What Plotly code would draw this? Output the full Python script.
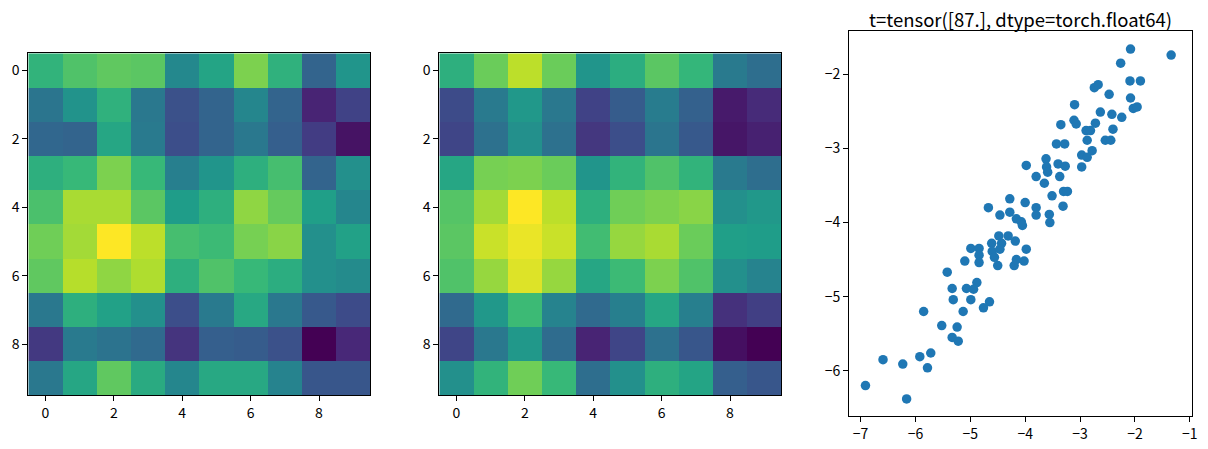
import plotly.graph_objects as go

# Heatmap values (0 = darkest, 1 = brightest)
grid_left = [
    [0.65, 0.72, 0.75, 0.74, 0.47, 0.58, 0.80, 0.64, 0.32, 0.52],
    [0.39, 0.51, 0.64, 0.40, 0.25, 0.32, 0.46, 0.32, 0.10, 0.20],
    [0.33, 0.32, 0.59, 0.41, 0.24, 0.32, 0.40, 0.30, 0.18, 0.05],
    [0.63, 0.67, 0.80, 0.67, 0.43, 0.52, 0.63, 0.70, 0.32, 0.50],
    [0.71, 0.87, 0.87, 0.74, 0.55, 0.63, 0.83, 0.76, 0.56, 0.46],
    [0.78, 0.86, 1.00, 0.90, 0.70, 0.68, 0.79, 0.82, 0.50, 0.57],
    [0.75, 0.89, 0.83, 0.88, 0.63, 0.72, 0.67, 0.62, 0.50, 0.48],
    [0.40, 0.63, 0.57, 0.50, 0.24, 0.41, 0.60, 0.40, 0.28, 0.23],
    [0.17, 0.41, 0.38, 0.34, 0.15, 0.30, 0.29, 0.25, 0.00, 0.11],
    [0.40, 0.59, 0.75, 0.61, 0.46, 0.60, 0.60, 0.45, 0.27, 0.27],
]

grid_right = [
    [0.63, 0.77, 0.90, 0.77, 0.52, 0.62, 0.74, 0.66, 0.41, 0.36],
    [0.23, 0.41, 0.53, 0.40, 0.20, 0.29, 0.42, 0.31, 0.07, 0.12],
    [0.21, 0.37, 0.50, 0.37, 0.16, 0.24, 0.39, 0.28, 0.06, 0.09],
    [0.59, 0.79, 0.80, 0.77, 0.52, 0.65, 0.72, 0.65, 0.41, 0.36],
    [0.73, 0.86, 1.00, 0.90, 0.63, 0.78, 0.80, 0.82, 0.50, 0.53],
    [0.74, 0.92, 0.97, 0.92, 0.69, 0.84, 0.87, 0.77, 0.56, 0.55],
    [0.72, 0.84, 0.95, 0.84, 0.59, 0.68, 0.80, 0.72, 0.50, 0.45],
    [0.34, 0.53, 0.68, 0.45, 0.34, 0.43, 0.59, 0.43, 0.14, 0.19],
    [0.21, 0.40, 0.53, 0.35, 0.10, 0.21, 0.37, 0.27, 0.04, 0.00],
    [0.50, 0.65, 0.78, 0.67, 0.36, 0.50, 0.63, 0.58, 0.30, 0.27],
]

# Scatter points
pts_x = [
    -2.08, -1.34, -2.26, -2.09, -1.90, -2.74, -2.67, -2.47, -2.08, -2.03,
    -1.96, -3.10, -2.63, -2.42, -2.24, -3.11, -3.07, -2.72, -3.35, -2.89,
    -2.81, -2.40, -2.87, -2.54, -2.44, -3.43, -3.28, -2.78, -2.97, -2.87,
    -3.62, -3.98, -3.61, -3.40, -3.27, -2.97, -3.59, -3.80, -3.37, -3.65,
    -3.30, -3.23, -3.51, -4.28, -4.00, -3.80, -3.31, -4.28, -3.80, -3.56,
    -4.16, -4.07, -3.55, -4.05, -4.67, -4.46,
    -4.48, -4.31, -4.61, -4.43, -4.18, -4.99, -4.84, -4.60, -4.46, -4.84,
    -4.56, -5.10, -4.84, -4.50, -4.20, -4.16, -4.02, -3.98, -5.42, -4.88,
    -5.07, -4.94, -5.33, -5.31, -4.99, -4.65, -4.76, -5.13, -5.85, -5.52,
    -5.24, -5.33, -5.22, -5.72, -5.92, -6.59, -6.23, -5.78, -6.91, -6.16,
]
pts_y = [
    -1.66, -1.74, -1.85, -2.09, -2.09, -2.18, -2.14, -2.27, -2.32, -2.46,
    -2.44, -2.41, -2.51, -2.54, -2.58, -2.62, -2.67, -2.66, -2.68, -2.76,
    -2.76, -2.74, -2.89, -2.89, -2.89, -2.94, -2.94, -3.03, -3.09, -3.12,
    -3.14, -3.23, -3.25, -3.21, -3.24, -3.25, -3.32, -3.38, -3.38, -3.47,
    -3.58, -3.58, -3.64, -3.68, -3.73, -3.80, -3.78, -3.86, -3.90, -3.89,
    -3.95, -3.99, -4.00, -4.04, -3.80, -3.90,
    -4.18, -4.18, -4.28, -4.28, -4.25, -4.35, -4.35, -4.39, -4.36, -4.44,
    -4.47, -4.52, -4.54, -4.58, -4.58, -4.50, -4.52, -4.36, -4.67, -4.81,
    -4.89, -4.90, -4.89, -5.04, -5.04, -5.07, -5.15, -5.20, -5.20, -5.39,
    -5.41, -5.55, -5.60, -5.76, -5.81, -5.85, -5.91, -5.96, -6.20, -6.38,
]

title_text = "t=tensor([87.], dtype=torch.float64)"
font_name = "Noto Sans CJK JP"

W, H = 1208, 449


def xdom(a, b):
    return [a / W, b / W]


def ydom(top, bottom):
    return [1 - bottom / H, 1 - top / H]


fig = go.Figure()

fig.add_trace(go.Heatmap(
    z=grid_left, colorscale="Viridis", showscale=False,
    xaxis="x", yaxis="y",
))
fig.add_trace(go.Heatmap(
    z=grid_right, colorscale="Viridis", showscale=False,
    xaxis="x2", yaxis="y2",
))
fig.add_trace(go.Scatter(
    x=pts_x, y=pts_y, mode="markers",
    marker=dict(color="#1f77b4", size=9.5, line=dict(width=0)),
    xaxis="x3", yaxis="y3",
))

# matplotlib-like axes: black box, outside ticks, no grid
axis_style = dict(
    showline=True, mirror=True, linecolor="black", linewidth=1,
    ticks="outside", ticklen=5, tickcolor="black", tickwidth=1,
    showgrid=False, zeroline=False, automargin=False,
    tickfont=dict(family=font_name, size=14, color="black"),
)

hm_y = ydom(53.3, 395.3)

fig.update_layout(
    width=W, height=H,
    margin=dict(l=0, r=0, t=0, b=0),
    paper_bgcolor="white", plot_bgcolor="white",
    showlegend=False,
    xaxis=dict(domain=xdom(28.3, 370.3), range=[-0.5, 9.5],
               tickvals=[0, 2, 4, 6, 8], anchor="y", **axis_style),
    yaxis=dict(domain=hm_y, range=[9.5, -0.5],
               tickvals=[0, 2, 4, 6, 8], anchor="x", **axis_style),
    xaxis2=dict(domain=xdom(439.3, 781.3), range=[-0.5, 9.5],
                tickvals=[0, 2, 4, 6, 8], anchor="y2", **axis_style),
    yaxis2=dict(domain=hm_y, range=[9.5, -0.5],
                tickvals=[0, 2, 4, 6, 8], anchor="x2", **axis_style),
    xaxis3=dict(domain=xdom(849, 1192), range=[-7.21, -0.96],
                dtick=1, anchor="y3", **axis_style),
    yaxis3=dict(domain=ydom(31, 416), range=[-6.61, -1.416],
                dtick=1, anchor="x3", **axis_style),
)

# title above the scatter panel
fig.add_annotation(
    text=title_text, xref="paper", yref="paper",
    x=(849 + 1192) / 2 / W, y=1 - 19 / H,
    xanchor="center", yanchor="middle", showarrow=False, borderpad=0,
    font=dict(family=font_name, size=18.5, color="black"),
)

# drop the default 8px body margin so the figure fills the window
fig.write_html(
    "out.html",
    config={"displayModeBar": False},
    post_script="document.body.style.margin = '0';",
)
